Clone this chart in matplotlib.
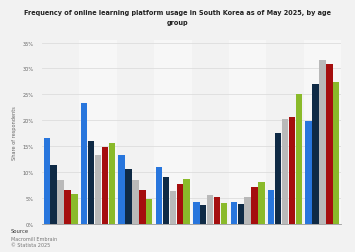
import matplotlib.pyplot as plt
import numpy as np

# Frequency categories (no labels shown in the chart)
categories = ["F1", "F2", "F3", "F4", "F5", "F6", "F7", "F8"]
age_groups = ["Teens", "20s", "30s", "40s", "50s"]
teens = [16.5, 23.3, 13.3, 11.0, 4.3, 4.3, 6.5, 19.9]
twenties = [11.4, 16.0, 10.6, 9.0, 3.7, 3.8, 17.6, 27.1]
thirties = [8.5, 13.3, 8.5, 6.3, 5.6, 5.1, 20.2, 31.7]
forties = [6.5, 14.8, 6.5, 7.8, 5.1, 7.1, 20.7, 30.8]
fifties = [5.7, 15.7, 4.9, 8.6, 4.0, 8.0, 25.0, 27.4]
yticks = [0, 5, 10, 15, 20, 25, 30, 35]

series = [teens, twenties, thirties, forties, fifties]
colors = ["#2876dd", "#0f2a45", "#b9b9b9", "#a50e0e", "#8aba2a"]

fig = plt.figure(figsize=(3.55, 2.53), dpi=100)
fig.patch.set_facecolor("#f2f2f2")
ax = fig.add_axes([0.118, 0.111, 0.843, 0.727])
ax.set_facecolor("#f2f2f2")

x = np.arange(len(categories))
# alternating column bands
for i in x:
    if i % 2 == 1:
        ax.axvspan(i - 0.5, i + 0.5, color="#f7f7f7", zorder=0, lw=0)

w = 0.17
for k, (vals, c) in enumerate(zip(series, colors)):
    ax.bar(x + (k - 2) * 0.185, vals, width=w, color=c, zorder=3, label=age_groups[k])

ax.set_xlim(-0.5, len(categories) - 0.5)
ax.set_ylim(0, 35.5)
ax.set_yticks(yticks)
ax.set_yticklabels([f"{t}%" for t in yticks], fontsize=3.6, color="#666666")
ax.set_xticks([])
ax.grid(axis="y", color="#dddddd", lw=0.6, zorder=1)
ax.tick_params(axis="y", length=0, pad=6)
for s in ["top", "right", "left"]:
    ax.spines[s].set_visible(False)
ax.spines["bottom"].set_color("#999999")
ax.spines["bottom"].set_linewidth(0.6)
ax.set_ylabel("Share of respondents", fontsize=3.6, color="#666666", labelpad=4)

fig.text(0.5, 0.928, "Frequency of online learning platform usage in South Korea as of May 2025, by age\ngroup",
         ha="center", va="center", fontsize=4.7, fontweight="bold", color="#222222", linespacing=1.9)
fig.text(0.03, 0.085, "Source", fontsize=3.8, color="#333333", va="center")
fig.text(0.03, 0.055, "Macromill Embrain", fontsize=3.5, color="#777777", va="center")
fig.text(0.03, 0.028, "© Statista 2025", fontsize=3.5, color="#777777", va="center")

fig.savefig("out.png", dpi=100, facecolor=fig.get_facecolor())
